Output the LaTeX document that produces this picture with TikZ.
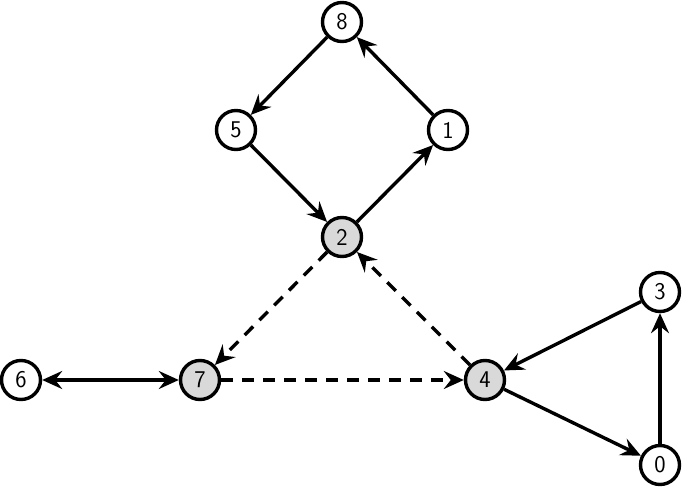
\documentclass[tikz,border=0pt]{standalone}
\usetikzlibrary{arrows.meta}
\begin{document}
\begin{tikzpicture}[x=1pt,y=-1pt,
  vert/.style={circle,draw,line width=3.4pt,minimum size=39pt,inner sep=0pt,fill=white,font=\sffamily\fontsize{24}{28}\selectfont},
  hl/.style={vert,fill=gray!30},
  edge/.style={line width=3.4pt,-{Stealth[length=20pt,width=18pt,inset=7pt]}},
  dedge/.style={edge,dash pattern=on 12pt off 9pt}]
\useasboundingbox (0,0) rectangle (685,487);
\node[vert] (n8) at (342,22) {8};
\node[vert] (n5) at (236,130) {5};
\node[vert] (n1) at (448,130) {1};
\node[hl] (n2) at (342,237) {2};
\node[vert] (n3) at (660,292) {3};
\node[vert] (n6) at (21,380) {6};
\node[hl] (n7) at (200,380) {7};
\node[hl] (n4) at (485,380) {4};
\node[vert] (n0) at (660,465) {0};
\draw[edge] (n1) -- (n8);
\draw[edge] (n8) -- (n5);
\draw[edge] (n5) -- (n2);
\draw[edge] (n2) -- (n1);
\draw[dedge] (n2) -- (n7);
\draw[dedge] (n4) -- (n2);
\draw[dedge] (n7) -- (n4);
\draw[line width=3.4pt,{Stealth[length=20pt,width=18pt,inset=7pt]}-{Stealth[length=20pt,width=18pt,inset=7pt]}] (n6) -- (n7);
\draw[edge] (n3) -- (n4);
\draw[edge] (n4) -- (n0);
\draw[edge] (n0) -- (n3);
\end{tikzpicture}
\end{document}
